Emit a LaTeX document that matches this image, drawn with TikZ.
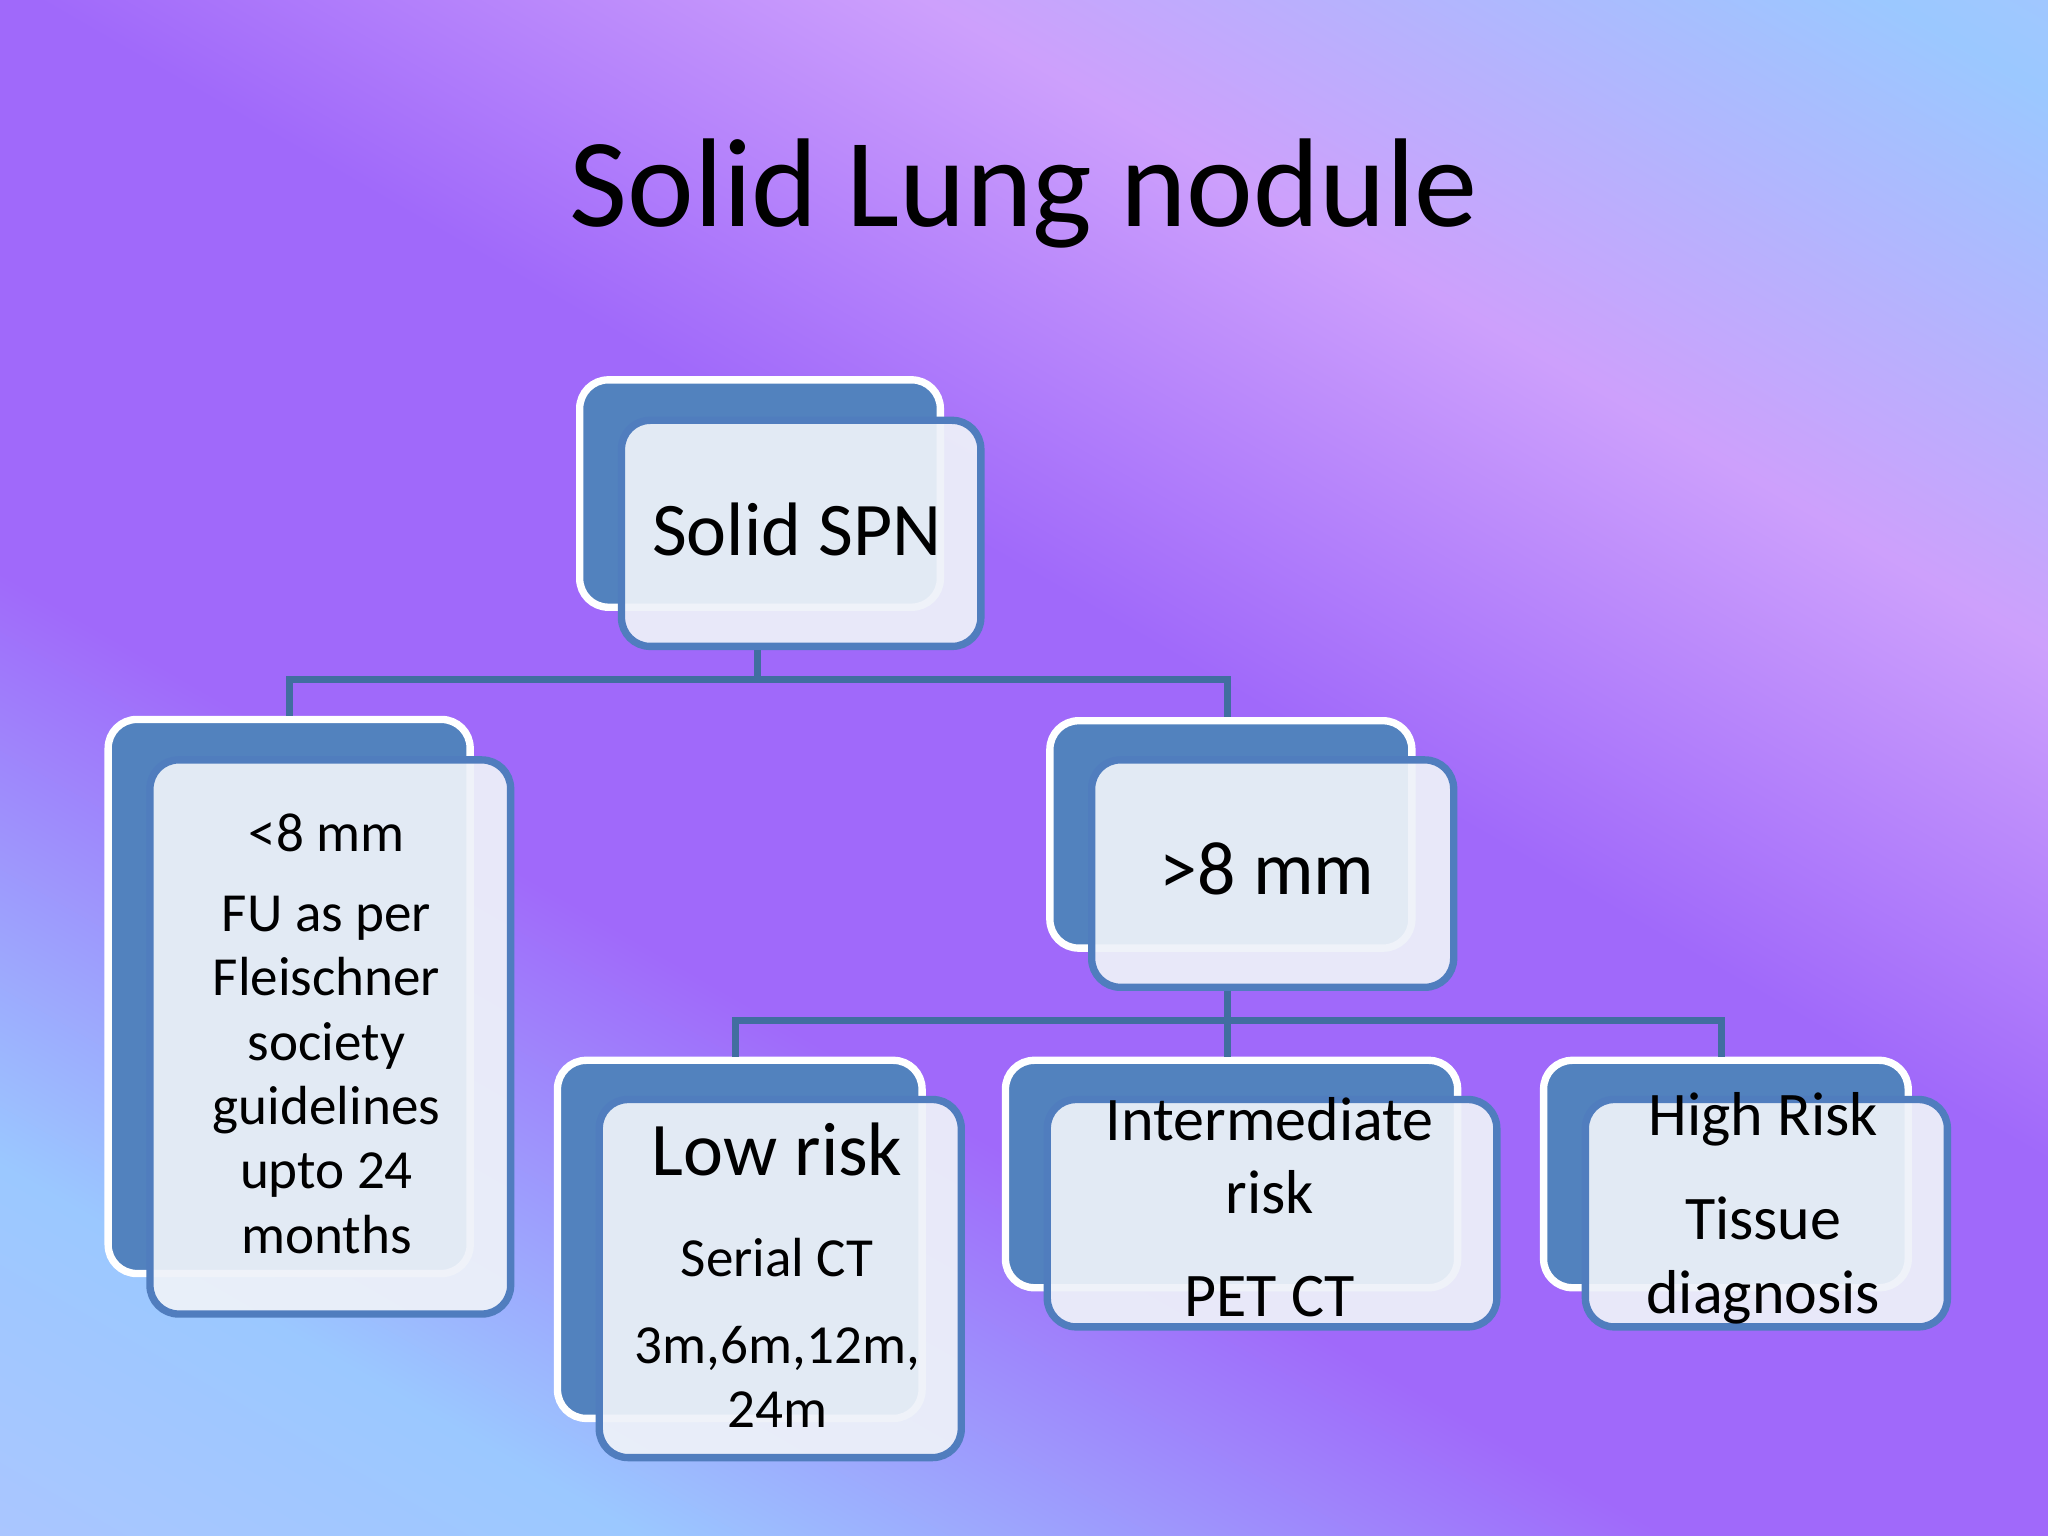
\documentclass[tikz,border=0pt]{standalone}
\usepackage{fontspec}
\setmainfont{Carlito}
\definecolor{pA}{RGB}{160,105,250}
\definecolor{pB}{RGB}{205,160,252}
\definecolor{bA}{RGB}{155,200,255}
\definecolor{bB}{RGB}{195,195,255}
\pgfdeclarehorizontalshading{bgshade}{100bp}{color(0bp)=(bB); color(25bp)=(bA); color(40bp)=(pA); color(55bp)=(pA); color(68bp)=(pB); color(82bp)=(bA); color(100bp)=(bB)}
\begin{document}
\begin{tikzpicture}[x=0.01cm,y=-0.01cm,
  back/.style={draw=white,line width=1.6pt,fill=bkblue,rounded corners=0.22cm,anchor=north west,inner sep=0},
  front/.style={draw=frblue,line width=1.6pt,fill=frfill,fill opacity=0.93,draw opacity=1,rounded corners=0.22cm,anchor=north west,inner sep=0},
  conn/.style={draw=lnblue,line width=1.5pt},
  big/.style={font=\fontsize{16.5pt}{20pt}\selectfont},
  mid/.style={font=\fontsize{13.5pt}{16pt}\selectfont},
  sm/.style={font=\fontsize{12pt}{14pt}\selectfont,align=center}]
\definecolor{bkblue}{RGB}{82,130,190}
\definecolor{frblue}{RGB}{80,125,190}
\definecolor{frfill}{RGB}{238,242,249}
\definecolor{lnblue}{RGB}{65,110,160}
\useasboundingbox (0,0) rectangle (1568,1176);
\clip (0,0) rectangle (1568,1176);
\shade[shading=bgshade,shading angle=60] (0,0) rectangle (1568,1176);
\node[font=\fontsize{27.5pt}{33pt}\selectfont] (title) at (784,148) {Solid Lung nodule};
% boxes
\node[back,minimum width=2.76cm,minimum height=1.74cm] (b1) at (441,288) {};
\node[front,minimum width=2.75cm,minimum height=1.73cm] (f1) at (473,319) {};
\node[big] (t1) at (610,405) {Solid SPN};
\node[back,minimum width=2.77cm,minimum height=4.24cm] (b2) at (80,548) {};
\node[front,minimum width=2.76cm,minimum height=4.24cm] (f2) at (112,579) {};
\node[sm] (t2a) at (250,638) {<8 mm};
\node[sm] (t2b) at (250,823) {FU as per\\Fleischner\\society\\guidelines\\upto 24\\months};
\node[back,minimum width=2.77cm,minimum height=1.74cm] (b3) at (801,549) {};
\node[front,minimum width=2.77cm,minimum height=1.74cm] (f3) at (833,579) {};
\node[big] (t3) at (970,665) {>8 mm};
\node[back,minimum width=2.79cm,minimum height=2.74cm] (b4) at (424,809) {};
\node[front,minimum width=2.77cm,minimum height=2.74cm] (f4) at (456,839) {};
\node[big] (t4a) at (595,880) {Low risk};
\node[sm] (t4b) at (595,963) {Serial CT};
\node[sm] (t4c) at (595,1054) {3m,6m,12m,\\24m};
\node[back,minimum width=3.46cm,minimum height=1.74cm] (b5) at (767,809) {};
\node[front,minimum width=3.44cm,minimum height=1.74cm] (f5) at (799,839) {};
\node[mid,align=center] (t5a) at (972,885) {Intermediate\\risk};
\node[mid] (t5b) at (972,993) {PET CT};
\node[back,minimum width=2.79cm,minimum height=1.74cm] (b6) at (1179,809) {};
\node[front,minimum width=2.77cm,minimum height=1.74cm] (f6) at (1211,839) {};
\node[mid] (t6a) at (1350,857) {High Risk};
\node[mid,align=center] (t6b) at (1350,965) {Tissue\\diagnosis};
% connectors
\coordinate (j1) at (580,520);
\coordinate (j2) at (940,781);
\draw[conn] (f1.south -| j1) -- (j1);
\draw[conn] (j1) -| (b2.north);
\draw[conn] (j1) -| (b3.north -| j2);
\draw[conn] (f3.south -| j2) -- (j2);
\draw[conn] (j2) -| (b4.north -| 563,0);
\draw[conn] (j2) -- (b5.north -| j2);
\draw[conn] (j2) -| (b6.north -| 1318,0);
\end{tikzpicture}
\end{document}
